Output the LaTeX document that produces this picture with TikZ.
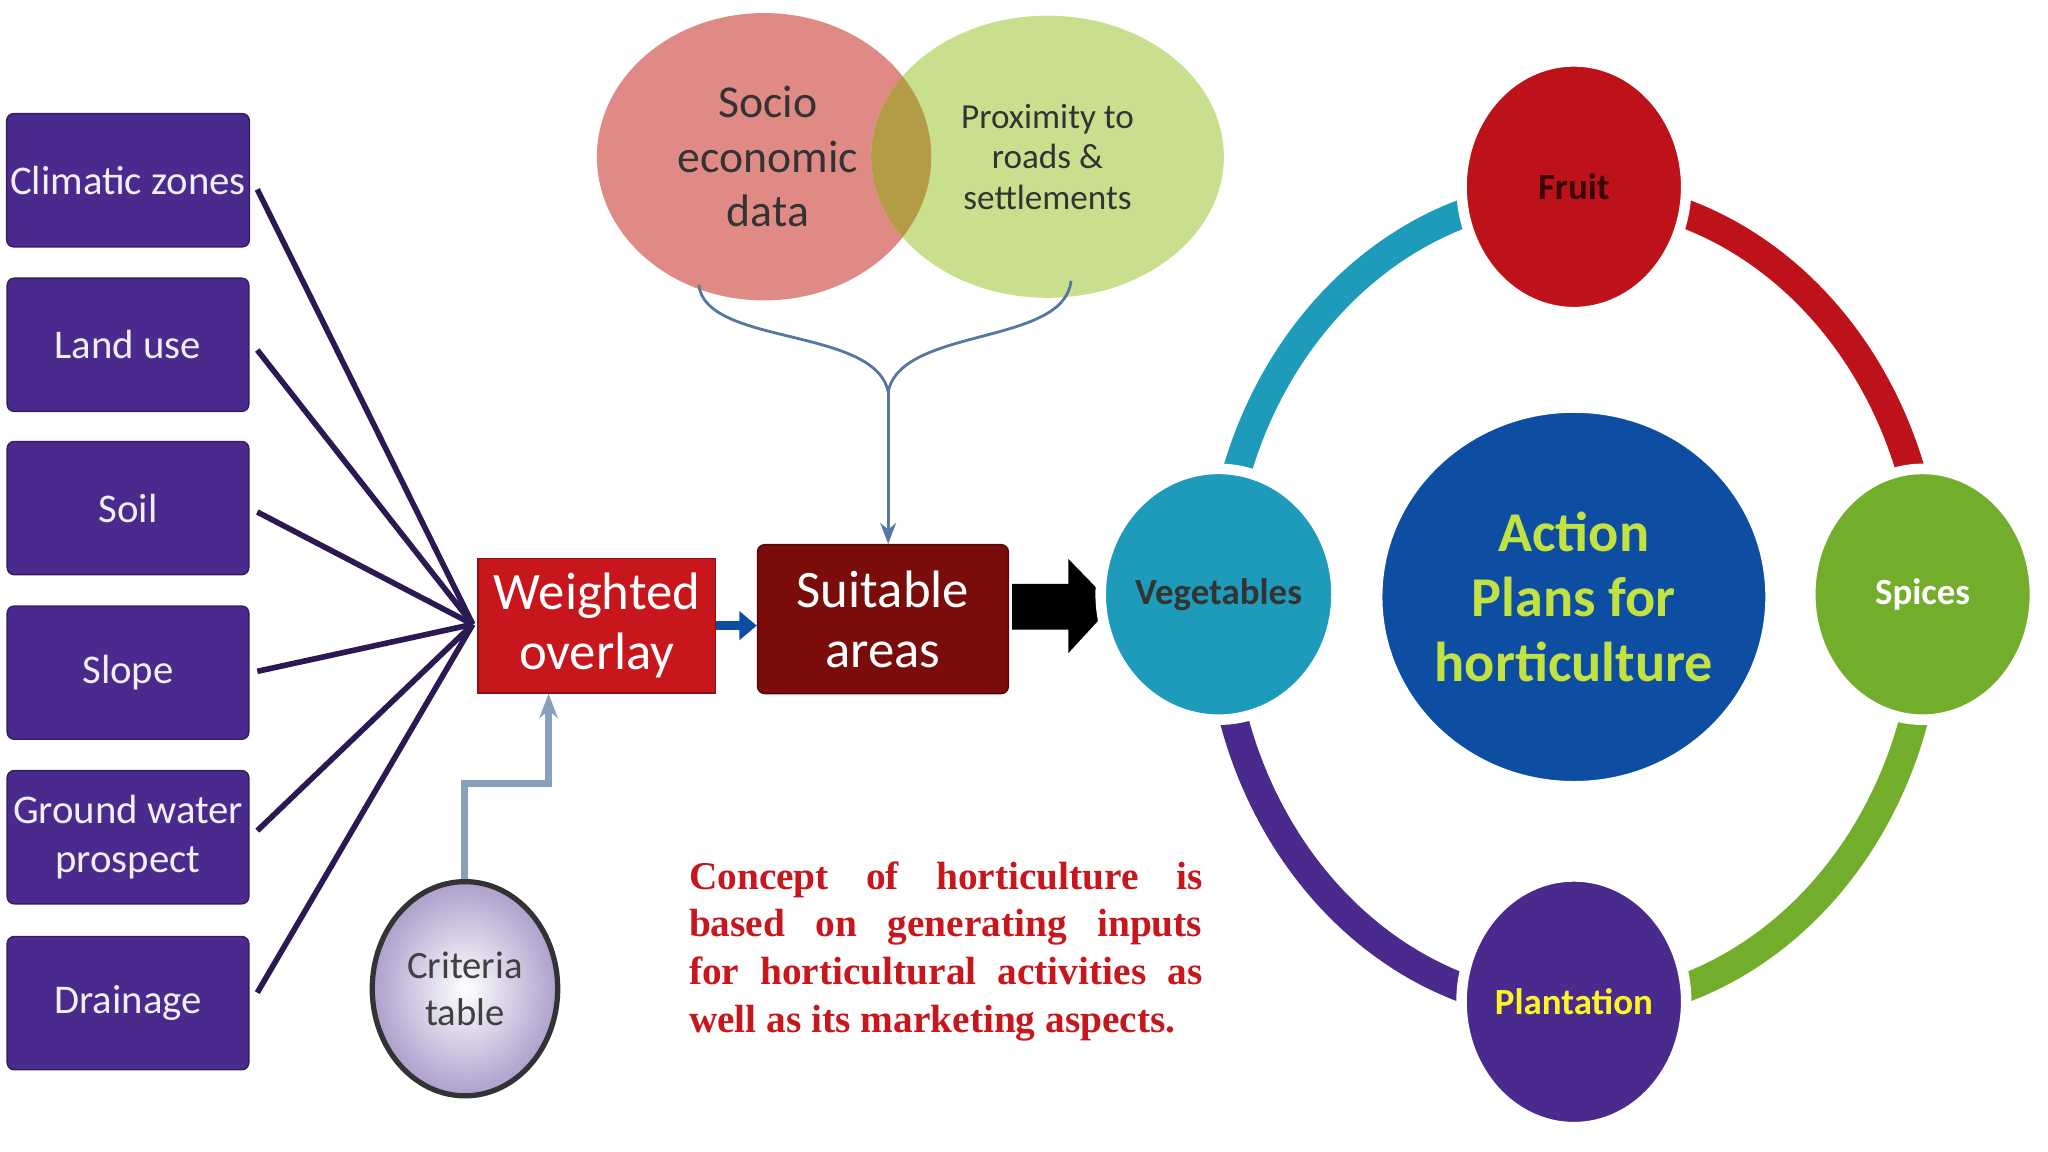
\documentclass[tikz,border=0pt]{standalone}
\usepackage{fontspec}
\setmainfont{Carlito}
\newfontfamily\serifb{Liberation Serif}
\usetikzlibrary{arrows.meta,shapes.geometric}
\def\uu{0.013061cm}
\definecolor{pur}{HTML}{4A2A8C}
\definecolor{wred}{HTML}{C8161D}
\definecolor{sred}{HTML}{7A0C0C}
\definecolor{pinkc}{HTML}{E08A86}
\definecolor{lgreen}{HTML}{C8DF8E}
\definecolor{olive}{HTML}{B39C45}
\definecolor{teal}{HTML}{1E9BBA}
\definecolor{fred}{HTML}{BE121B}
\definecolor{gr}{HTML}{72AE2C}
\definecolor{cblue}{HTML}{0D4EA3}
\definecolor{lineb}{HTML}{5577A0}
\tikzset{
 lbox/.style={draw=pur!70!black, fill=pur, rounded corners=2pt, minimum width=185*\uu, minimum height=102*\uu, text=white!92!pur, font=\fontsize{11.6}{14}\selectfont, align=center, inner sep=1pt},
 conn/.style={draw=pur!60!black, line width=1.6pt},
 bub/.style={ellipse, draw=white, line width=3pt, minimum width=172*\uu, minimum height=192*\uu, inner sep=0pt, font=\bfseries\fontsize{10.5}{13}\selectfont},
 ring/.style={line width=22*\uu},
}
\begin{document}
\begin{tikzpicture}[x=\uu,y=-\uu]
\useasboundingbox (0,0) rectangle (1568,882);
\node[lbox] (c) at (98,138) {Climatic zones};
\node[lbox] (l) at (98,264) {Land use};
\node[lbox] (s) at (98,389) {Soil};
\node[lbox] (sl) at (98,515) {Slope};
\node[lbox] (g) at (98,641) {Ground water\\prospect};
\node[lbox] (d) at (98,768) {Drainage};
\coordinate (hub) at (362,478);
\foreach \yy in {145,268,392,514,636,760}
  \draw[conn] (197,\yy) -- (hub);
\node[draw=wred!70!black, fill=wred, minimum width=182*\uu, minimum height=103*\uu, inner sep=1pt, text=white, font=\fontsize{15}{17}\selectfont, align=center] (w) at (457,479) {Weighted\\overlay};
\node[draw=sred!70!black, fill=sred, rounded corners=2pt, minimum width=192*\uu, minimum height=114*\uu, inner sep=1pt, text=white, font=\fontsize{15}{17}\selectfont, align=center] (sa) at (676,474) {Suitable\\areas};
\draw[-{Triangle[length=5pt,width=8pt]}, line width=2.5pt, draw=cblue] (w.east) -- (sa.west|-w.east);
\fill (775,447) -- (818,447) -- (818,428) -- (852,463) -- (818,500) -- (818,482) -- (775,482) -- cycle;
\node[ellipse, fill=pinkc, minimum width=256*\uu, minimum height=220*\uu] (se) at (585,120) {};
\node[ellipse, fill=lgreen, minimum width=270*\uu, minimum height=216*\uu] (pe) at (802,120) {};
\begin{scope}
\clip (585,120) ellipse [x radius=128, y radius=110];
\fill[olive] (802,120) ellipse [x radius=135, y radius=108];
\end{scope}
\node[text=black!80, font=\fontsize{13}{15.5}\selectfont, align=center] (st) at (588,120) {Socio\\economic\\data};
\node[text=black!80, font=\fontsize{10}{11.5}\selectfont, align=center] (pt) at (802,120) {Proximity to\\roads \&\\settlements};
\coordinate (b1) at (535,218); \coordinate (b2) at (820,215); \coordinate (bm) at (680,300);
\draw[lineb, thick] (b1) .. controls (540,265) and (670,250) .. (bm);
\draw[lineb, thick] (b2) .. controls (815,265) and (690,250) .. (bm);
\draw[lineb, thick, -{Stealth[length=6pt]}] (bm) -- (sa.north-|bm);
\node[ellipse, draw=black!80, line width=1.5pt, inner color=white, outer color=pur!45!white, minimum width=142*\uu, minimum height=164*\uu, inner sep=0pt, align=center, font=\fontsize{11}{13.5}\selectfont, text=black!75] (ct) at (356,757) {Criteria\\table};
\coordinate (k1) at (356,600); \coordinate (k2) at (420,600); \coordinate (k3) at (420,531);
\draw[lineb!70, line width=2pt, -{Stealth[length=7pt]}] (ct.north) -- (k1) -- (k2) -- (k3);
\node[text=wred, font=\serifb\bfseries\fontsize{11.2}{13.6}\selectfont, text width=393*\uu, align=justify, inner sep=0pt, anchor=north west] (txt) at (527,659) {\hyphenpenalty=10000\parfillskip=0pt Concept of horticulture is\linebreak based on generating inputs\linebreak for horticultural activities as\linebreak well as its marketing aspects.};
\draw[ring, teal] (1205,460) ++(180:272 and 312) arc[start angle=180, end angle=270, x radius=272, y radius=312];
\draw[ring, fred] (1205,460) ++(270:272 and 312) arc[start angle=270, end angle=360, x radius=272, y radius=312];
\draw[ring, gr] (1205,460) ++(0:272 and 312) arc[start angle=0, end angle=90, x radius=272, y radius=312];
\draw[ring, pur] (1205,460) ++(90:272 and 312) arc[start angle=90, end angle=180, x radius=272, y radius=312];
\node[bub, fill=fred, text=black!70!fred] (fr) at (1205,143) {Fruit};
\node[bub, fill=teal, text=black!80] (veg) at (933,455) {Vegetables};
\node[bub, fill=gr, text=white] (sp) at (1472,455) {Spices};
\node[bub, fill=pur, text=yellow!85!white] (pl) at (1205,767) {Plantation};
\node[ellipse, draw=white, line width=3pt, fill=cblue, minimum width=252*\uu, minimum height=290*\uu, inner sep=0pt, text=yellow!70!green!80!white, font=\bfseries\fontsize{16}{18.5}\selectfont, align=center] (ap) at (1205,457) {Action\\Plans for\\horticulture};
\end{tikzpicture}
\end{document}
